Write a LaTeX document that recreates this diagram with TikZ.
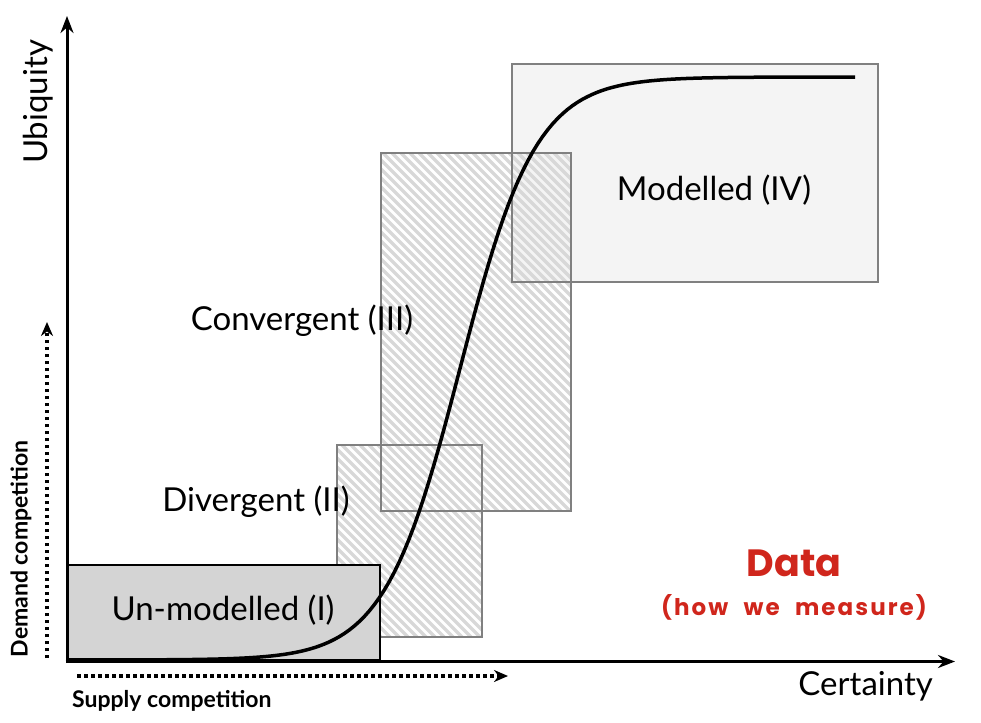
\documentclass[tikz,border=0pt]{standalone}
\usepackage{fontspec}
\setmainfont{Lato}
\newfontfamily\datafont{Poppins}
\newfontfamily\datafontwide{Poppins}[LetterSpace=9,WordSpace=2.2]
\usetikzlibrary{arrows.meta}
\definecolor{hatchgray}{HTML}{D8D8D8}
\definecolor{edgegray}{HTML}{808080}
\definecolor{datared}{HTML}{D0261C}
\definecolor{lightfill}{HTML}{F4F4F4}
\definecolor{darkfill}{HTML}{D4D4D4}
\tikzset{
  axis/.style={line width=3pt,-{Stealth[length=17pt,width=13pt]}},
  compet/.style={line width=3.5pt,dash pattern=on 3.5pt off 3.5pt,-{Stealth[length=14pt,width=12pt]}},
  stripe/.style={draw=hatchgray,line width=3.2pt},
  edge/.style={draw=edgegray,line width=2pt},
  region/.style={font=\fontsize{33}{35}\selectfont,inner sep=0pt},
  competlabel/.style={font=\fontsize{23}{25}\selectfont\bfseries,inner sep=0pt},
}
\begin{document}
\begin{tikzpicture}[x=1pt,y=-1pt]
\useasboundingbox (0,0) rectangle (981,722);
% region IV
\fill[lightfill] (512,64) rectangle (878,282);
% hatched regions III and II
\begin{scope}
  \clip (381,153) rectangle (571,511) (337,445) rectangle (482,637);
  \foreach \c in {-300,-291,...,600} {\draw[stripe] (\c,100) -- ++(600,600);}
\end{scope}
\draw[edge] (512,64) rectangle (878,282);
\draw[edge] (381,153) rectangle (571,511);
\draw[edge] (337,445) rectangle (482,637);
% region I
\filldraw[fill=darkfill,draw=black,line width=2pt] (67,565) rectangle (380,660);
% S-curve
\draw[line width=3.5pt,line join=round] plot[domain=67:855,samples=160,variable=\x]
  ({\x},{660-583/(1+exp(min((460-\x)/38,9)))});
% axes
\coordinate (ytop) at (67,16);
\coordinate (xend) at (955,661.5);
\coordinate (yo) at (67,663);
\coordinate (xo) at (65.5,661.5);
\draw[axis] (yo) -- (ytop);
\draw[axis] (xo) -- (xend);
% competition arrows
\coordinate (dstart) at (47,658);
\coordinate (dend) at (47,322);
\coordinate (sstart) at (77,676);
\coordinate (send) at (508,676);
\draw[compet] (dstart) -- (dend);
\draw[compet] (sstart) -- (send);
% labels
\node[region,rotate=90] (ubiq) at (38,102) {Ubiquity};
\node[region,anchor=east] (cert) at (933,686) {Certainty};
\node[region] (l1) at (223,610) {Un-modelled (I)};
\node[region] (l2) at (256,502) {Divergent (II)};
\node[region] (l3) at (302,321) {Convergent (III)};
\node[region] (l4) at (714,190) {Modelled (IV)};
\node[competlabel,rotate=90] (dem) at (21,549) {Demand competition};
\node[competlabel,anchor=west] (sup) at (72,701) {Supply competition};
\node[font=\datafont\bfseries\fontsize{38}{40}\selectfont,text=datared,inner sep=0pt] (data) at (794,563) {Data};
\node[font=\datafontwide\bfseries\fontsize{23}{25}\selectfont,text=datared,inner sep=0pt] (how) at (794,607) {(how we measure)};
\end{tikzpicture}
\end{document}
